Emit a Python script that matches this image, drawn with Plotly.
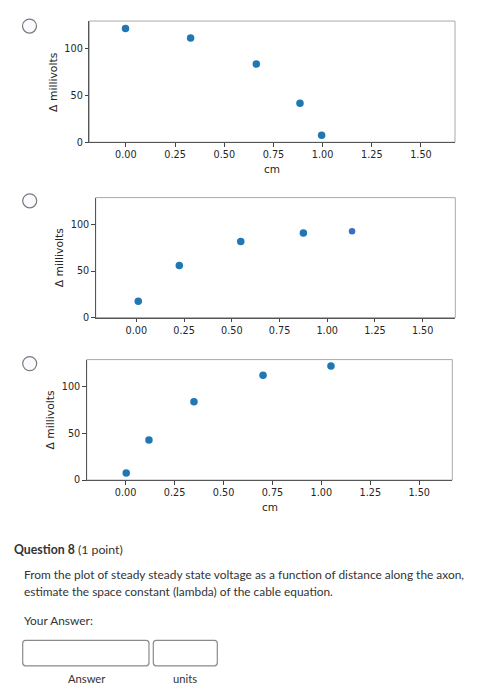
import plotly.graph_objects as go

W, H = 498, 692

# data (cm vs delta millivolts)
x_a = [-0.002, 0.329, 0.663, 0.885, 0.995]
y_a = [121, 111, 83.3, 41.6, 7.5]

x_b = [0.01, 0.225, 0.547, 0.875, 1.13]
y_b = [17.6, 56.1, 81.7, 91, 92.8]

x_c = [0.003, 0.119, 0.349, 0.702, 1.049]
y_c = [7.5, 42.7, 83.6, 111.7, 121.7]

x_ticks = [0, 0.25, 0.5, 0.75, 1.0, 1.25, 1.5]
x_tick_labels = ["0.00", "0.25", "0.50", "0.75", "1.00", "1.25", "1.50"]
y_ticks = [0, 50, 100]
y_tick_labels = ["0", "50", "100"]

question_title = "<b>Question 8</b> (1 point)"
question_lines = [
    "From the plot of steady steady state voltage as a function of distance along the axon,",
    "estimate the space constant (lambda) of the cable equation.",
]

BLUE = "#1f77b4"
TXT = "#333333"
TICK_TXT = "#262626"

# figure a bit shorter than the window so the page never scrolls
FW, FH = W, H - 6
YS = 1.009  # small vertical stretch seen in the screenshots


def px_x(p):
    return p / FW


def px_y(p):
    return 1 - p * YS / FH


# panel boxes in pixels: (left, right, top, bottom), x range, y top
panels = [
    dict(box=(89.3, 455.0, 21.0, 142.0), xr=[-0.186, 1.673], ytop=129, cm=True),
    dict(box=(95.7, 455.3, 197.3, 317.0), xr=[-0.213, 1.671], ytop=129, cm=False),
    dict(box=(86.7, 452.3, 359.0, 479.3), xr=[-0.199, 1.669], ytop=128.5, cm=True),
]
series = [(x_a, y_a), (x_b, y_b), (x_c, y_c)]
radios = [(29.5, 26.0), (29.7, 200.5), (29.7, 363.0)]

fig = go.Figure()
shapes = []
annotations = []

for i, (p, (xs, ys)) in enumerate(zip(panels, series), start=1):
    l, r, t, b = p["box"]
    xa = "xaxis" if i == 1 else f"xaxis{i}"
    ya = "yaxis" if i == 1 else f"yaxis{i}"
    xref = "x" if i == 1 else f"x{i}"
    yref = "y" if i == 1 else f"y{i}"

    colors = [BLUE] * len(xs)
    sizes = [7.5] * len(xs)
    if i == 2:
        colors[-1] = "#3b6cc6"
        sizes[-1] = 6.5

    fig.add_trace(go.Scatter(
        x=xs, y=ys, mode="markers", xaxis=xref, yaxis=yref,
        marker=dict(color=colors, size=sizes, opacity=1, line=dict(width=0)),
        showlegend=False, cliponaxis=False,
    ))

    fig.layout[xa] = dict(
        domain=[px_x(l), px_x(r)], range=p["xr"], anchor=yref,
        tickvals=x_ticks, ticktext=x_tick_labels,
        ticks="outside", ticklen=3.5, tickcolor="#444", tickwidth=1,
        showline=True, linecolor="#555", linewidth=1,
        showgrid=False, zeroline=False,
        tickfont=dict(family="DejaVu Sans", size=9.7, color=TICK_TXT),
    )
    fig.layout[ya] = dict(
        domain=[px_y(b), px_y(t)], range=[0, p["ytop"]], anchor=xref,
        tickvals=y_ticks, ticktext=y_tick_labels,
        ticks="outside", ticklen=3.5, tickcolor="#444", tickwidth=1,
        showline=True, linecolor="#555", linewidth=1,
        showgrid=False, zeroline=False,
        tickfont=dict(family="DejaVu Sans", size=9.7, color=TICK_TXT),
    )

    # lighter top/right spines
    shapes.append(dict(
        type="rect", xref="paper", yref="paper", layer="below",
        x0=px_x(l), x1=px_x(r), y0=px_y(b), y1=px_y(t),
        line=dict(color="#aaaaaa", width=1), fillcolor="white",
    ))

    annotations.append(dict(
        text="Δ millivolts", textangle=-90, showarrow=False,
        xref="paper", yref="paper", x=px_x(l - 36), y=px_y((t + b) / 2),
        xanchor="center", yanchor="middle",
        font=dict(family="DejaVu Sans", size=10.8, color=TICK_TXT),
    ))
    if p["cm"]:
        annotations.append(dict(
            text="cm", showarrow=False,
            xref="paper", yref="paper", x=px_x((l + r) / 2), y=px_y(b + 26.5),
            xanchor="center", yanchor="middle",
            font=dict(family="DejaVu Sans", size=10.5, color=TICK_TXT),
        ))

# radio buttons
for cx, cy in radios:
    shapes.append(dict(
        type="circle", xref="paper", yref="paper",
        x0=px_x(cx - 7), x1=px_x(cx + 7), y0=px_y(cy + 7), y1=px_y(cy - 7),
        line=dict(color="#7a7a7a", width=1.2), fillcolor="#fafbff",
    ))


def rounded_box(l, r, t, b, rad=3):
    pts = [
        f"M {px_x(l + rad)},{px_y(t)}",
        f"L {px_x(r - rad)},{px_y(t)}",
        f"Q {px_x(r)},{px_y(t)} {px_x(r)},{px_y(t + rad)}",
        f"L {px_x(r)},{px_y(b - rad)}",
        f"Q {px_x(r)},{px_y(b)} {px_x(r - rad)},{px_y(b)}",
        f"L {px_x(l + rad)},{px_y(b)}",
        f"Q {px_x(l)},{px_y(b)} {px_x(l)},{px_y(b - rad)}",
        f"L {px_x(l)},{px_y(t + rad)}",
        f"Q {px_x(l)},{px_y(t)} {px_x(l + rad)},{px_y(t)} Z",
    ]
    return dict(type="path", xref="paper", yref="paper", path=" ".join(pts),
                line=dict(color="#8a8a8a", width=1.2), fillcolor="white")


# answer inputs
shapes.append(rounded_box(22.7, 149.0, 639.3, 664.7))
shapes.append(rounded_box(153.3, 217.3, 639.3, 664.7))

# question text
annotations.append(dict(
    text=question_title, showarrow=False, xref="paper", yref="paper",
    x=px_x(11.5), y=px_y(549), xanchor="left", yanchor="middle",
    font=dict(family="Lato", size=12.3, color=TXT),
))
for k, line in enumerate(question_lines):
    annotations.append(dict(
        text=line, showarrow=False, xref="paper", yref="paper",
        x=px_x(21.5), y=px_y(574 + 17 * k), xanchor="left", yanchor="middle",
        font=dict(family="Lato", size=11.9, color=TXT),
    ))
annotations.append(dict(
    text="Your Answer:", showarrow=False, xref="paper", yref="paper",
    x=px_x(21.5), y=px_y(619.2), xanchor="left", yanchor="middle",
    font=dict(family="Lato", size=11.9, color=TXT),
))
for lbl, cx in (("Answer", 86.5), ("units", 185.0)):
    annotations.append(dict(
        text=lbl, showarrow=False, xref="paper", yref="paper",
        x=px_x(cx), y=px_y(677.5), xanchor="center", yanchor="middle",
        font=dict(family="Lato", size=11.2, color=TXT),
    ))

fig.update_layout(
    width=FW, height=FH,
    margin=dict(l=0, r=0, t=0, b=0),
    paper_bgcolor="white", plot_bgcolor="rgba(0,0,0,0)",
    shapes=shapes, annotations=annotations,
)

# drop the default 8px page margin so pixel positions line up with the window
fig.write_html(
    "out.html",
    config={"displayModeBar": False},
    post_script="document.body.style.margin='0px';",
)
